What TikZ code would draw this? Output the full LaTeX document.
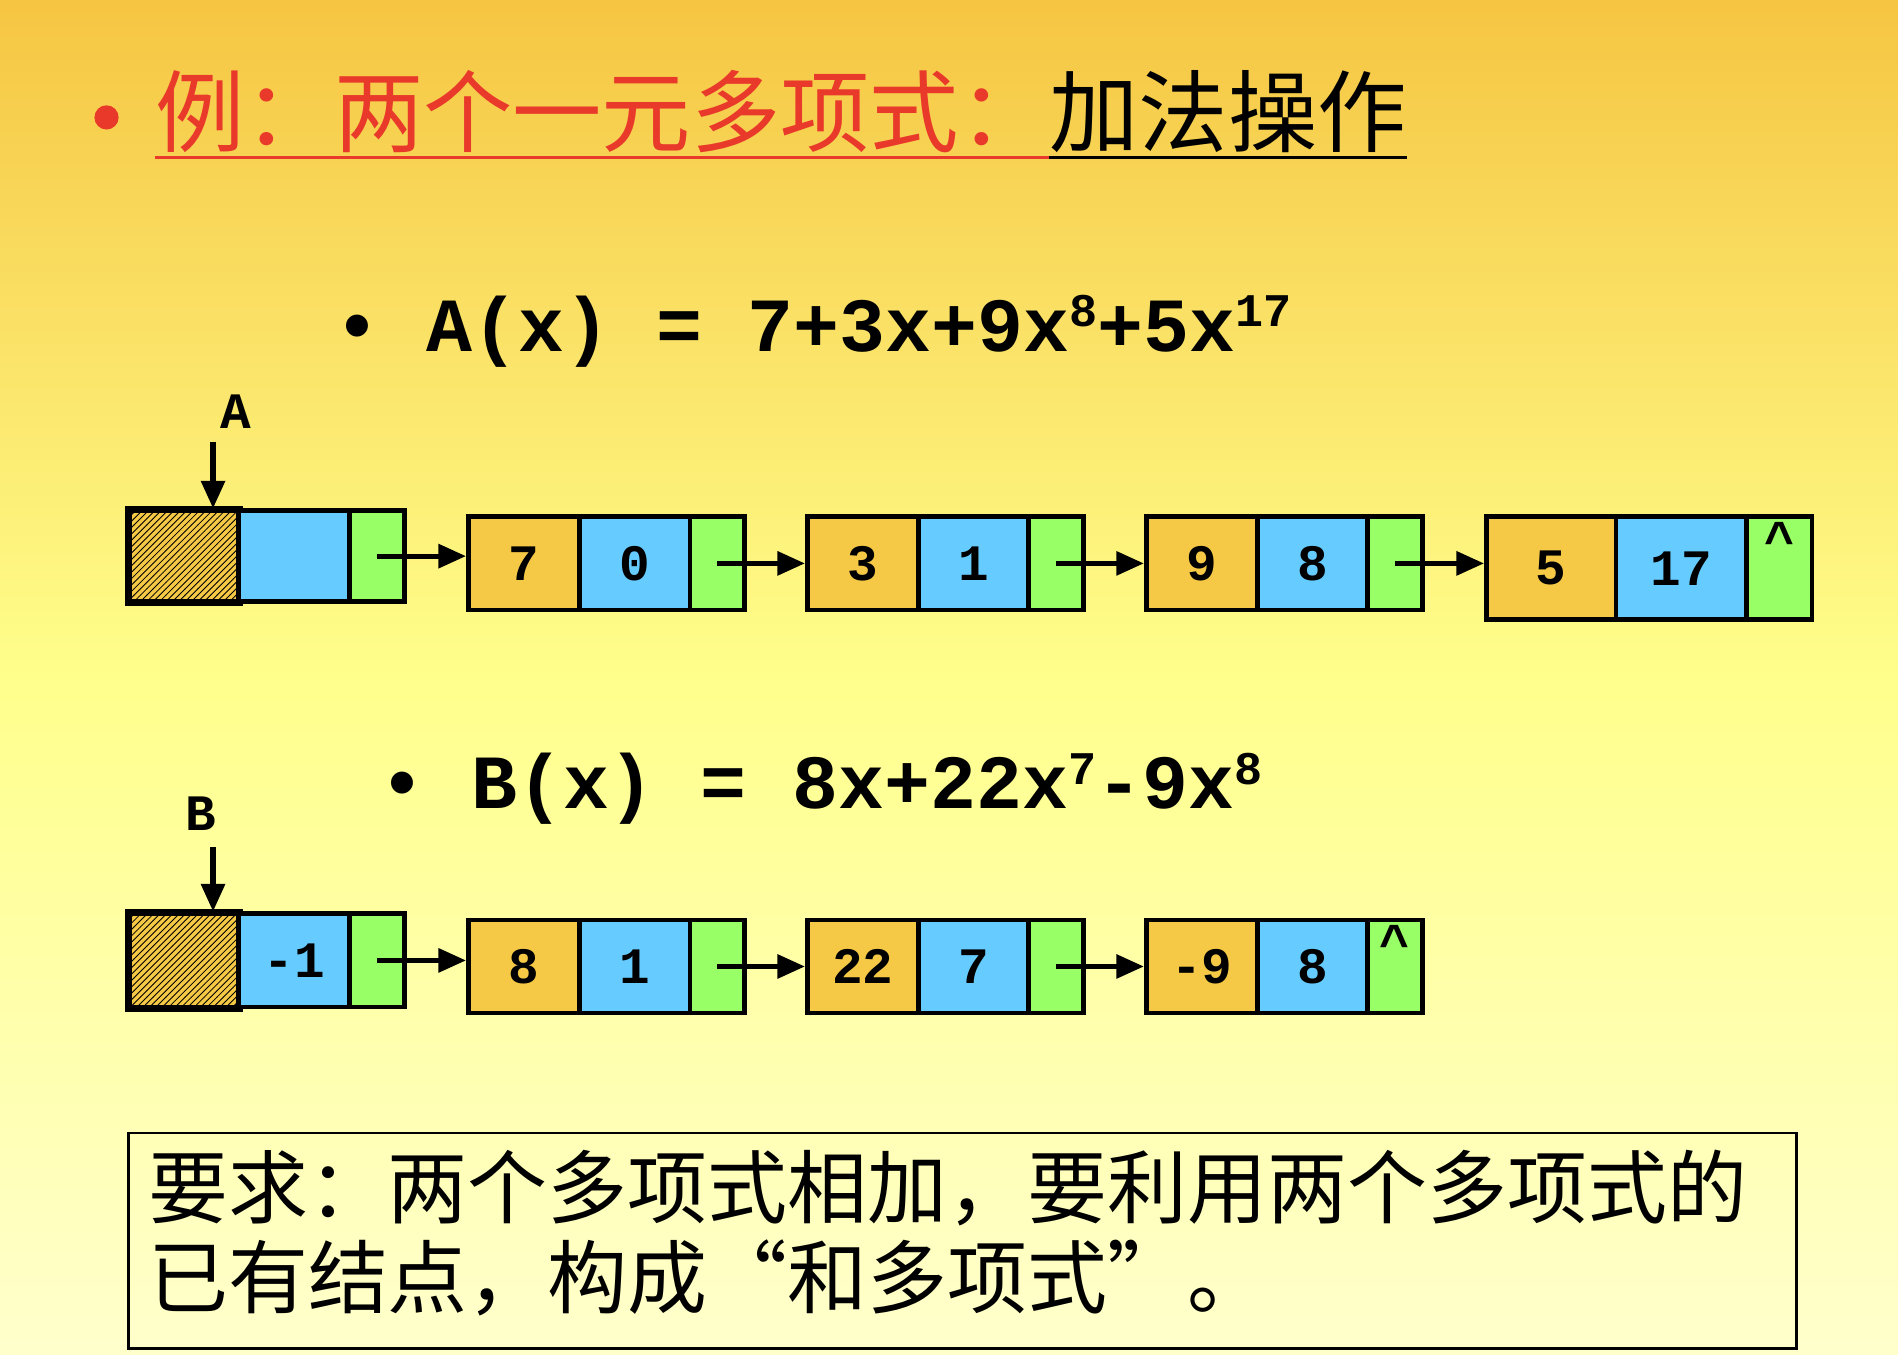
\documentclass[tikz,border=0pt]{standalone}
\usepackage{fontspec}
\newfontfamily\cjk{Noto Sans CJK SC}
\newfontfamily\mono{Liberation Mono}
\usetikzlibrary{patterns,arrows.meta,calc}
\definecolor{co}{HTML}{F5C945}
\definecolor{cb}{HTML}{66CCFF}
\definecolor{cg}{HTML}{99FF66}
\definecolor{tred}{HTML}{E8392B}
\tikzset{
 cell/.style={draw=black,line width=2.2pt,anchor=north west,inner sep=0pt,font=\mono\bfseries\fontsize{24}{24}\selectfont},
 arr/.style={line width=2.4pt,-{Triangle[length=13pt,width=11pt]}},
}
\begin{document}
\begin{tikzpicture}[x=0.02cm,y=-0.02cm]
\useasboundingbox (0,0) rectangle (1568,1119);
\shade[top color=co!95!orange, bottom color=yellow!20!white, middle color=yellow!45!white] (0,0) rectangle (1568,1119);
% title
\fill[tred] (88,97) circle (10);
\node[anchor=base west,inner sep=0pt,text=tred,font=\cjk\fontsize{42}{42}\selectfont] (t1) at (128,120) {例：两个一元多项式：};
\node[anchor=base west,inner sep=0pt,font=\cjk\fontsize{42}{42}\selectfont] (t2) at (t1.base east) {加法操作};
\draw[tred,line width=1.5pt] ($(t1.south west)+(0,4)$) -- ($(t1.south east)+(0,4)$);
\draw[line width=1.5pt] ($(t2.south west)+(0,4)$) -- ($(t2.south east)+(0,4)$);
% formulas
\node[anchor=base west,inner sep=0pt,font=\mono\bfseries\fontsize{36}{36}\selectfont] (fa) at (276,290) {• A(x) = 7+3x+9x\raisebox{0.6ex}{\fontsize{22}{22}\selectfont 8}+5x\raisebox{0.6ex}{\fontsize{22}{22}\selectfont 17}};
\node[anchor=base west,inner sep=0pt,font=\mono\bfseries\fontsize{36}{36}\selectfont] (fb) at (313,668) {• B(x) = 8x+22x\raisebox{0.6ex}{\fontsize{22}{22}\selectfont 7}-9x\raisebox{0.6ex}{\fontsize{22}{22}\selectfont 8}};
% head A
\node[cell,fill=co,minimum width=90*0.02cm,minimum height=75*0.02cm] (ah) at (105,420) {};
\fill[pattern=north east lines] (ah.north west) rectangle (ah.south east);
\draw[line width=2.2pt] (ah.north west) rectangle (ah.south east);
\node[cell,fill=cb,minimum width=92*0.02cm,minimum height=75*0.02cm] (ahb) at (195,420) {};
\node[cell,fill=cg,minimum width=45*0.02cm,minimum height=75*0.02cm] (ahg) at (287,420) {};
\node[font=\mono\bfseries\fontsize{24}{24}\selectfont] (la) at (195,340) {A};
\coordinate (pa) at (176,365);
\draw[arr] (pa) -- (ah.north east -| pa);
% A nodes
\foreach \n/\x/\c/\e in {1/385/7/0,2/665/3/1,3/945/9/8}{
 \node[cell,fill=co,minimum width=92*0.02cm,minimum height=77*0.02cm] (a\n o) at (\x,425) {\c};
 \node[cell,fill=cb,minimum width=91*0.02cm,minimum height=77*0.02cm] (a\n b) at (\x+92,425) {\e};
 \node[cell,fill=cg,minimum width=45*0.02cm,minimum height=77*0.02cm] (a\n g) at (\x+183,425) {};
}
\node[cell,fill=co,minimum width=107*0.02cm,minimum height=85*0.02cm] (a4o) at (1226,425) {5};
\node[cell,fill=cb,minimum width=108*0.02cm,minimum height=85*0.02cm] (a4b) at (1333,425) {17};
\node[cell,fill=cg,minimum width=54*0.02cm,minimum height=85*0.02cm] (a4g) at (1441,425) {};
\node[font=\mono\bfseries\fontsize{24}{24}\selectfont,anchor=north] (a4n) at (a4g.north) {\^{}};
\draw[arr] (ahg.center) -- (a1o.west |- ahg.center);
\draw[arr] (a1g.center) -- (a2o.west);
\draw[arr] (a2g.center) -- (a3o.west);
\draw[arr] (a3g.center) -- (a4o.west |- a3g.center);
% head B
\node[cell,fill=co,minimum width=90*0.02cm,minimum height=77*0.02cm] (bh) at (105,753) {};
\fill[pattern=north east lines] (bh.north west) rectangle (bh.south east);
\draw[line width=2.2pt] (bh.north west) rectangle (bh.south east);
\node[cell,fill=cb,minimum width=92*0.02cm,minimum height=77*0.02cm] (bhb) at (195,753) {-1};
\node[cell,fill=cg,minimum width=45*0.02cm,minimum height=77*0.02cm] (bhg) at (287,753) {};
\node[font=\mono\bfseries\fontsize{24}{24}\selectfont] (lb) at (166,672) {B};
\coordinate (pb) at (176,700);
\draw[arr] (pb) -- (bh.north east -| pb);
\foreach \n/\x/\c/\e in {1/385/8/1,2/665/22/7,3/945/-9/8}{
 \node[cell,fill=co,minimum width=92*0.02cm,minimum height=77*0.02cm] (b\n o) at (\x,758) {\c};
 \node[cell,fill=cb,minimum width=91*0.02cm,minimum height=77*0.02cm] (b\n b) at (\x+92,758) {\e};
 \node[cell,fill=cg,minimum width=45*0.02cm,minimum height=77*0.02cm] (b\n g) at (\x+183,758) {};
}
\node[font=\mono\bfseries\fontsize{24}{24}\selectfont,anchor=north] (b3n) at (b3g.north) {\^{}};
\draw[arr] (bhg.center) -- (b1o.west |- bhg.center);
\draw[arr] (b1g.center) -- (b2o.west);
\draw[arr] (b2g.center) -- (b3o.west);
% bottom box
\node[draw,line width=1.2pt,anchor=north west,minimum width=1378*0.02cm,minimum height=178*0.02cm] (box) at (105,935) {};
\node[anchor=north west,align=left,inner sep=0pt,font=\cjk\fontsize{37.6}{42}\selectfont] (req) at (122,950) {要求：两个多项式相加，要利用两个多项式的\\已有结点，构成“和多项式”。};
\end{tikzpicture}
\end{document}
